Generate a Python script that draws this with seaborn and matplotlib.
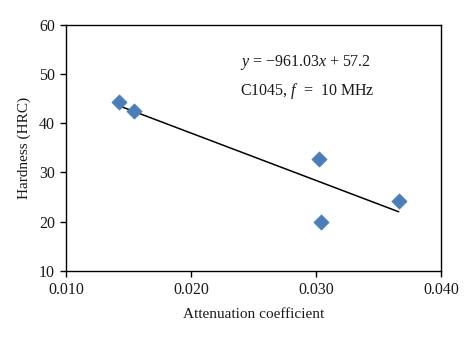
import matplotlib
matplotlib.use("Agg")
import matplotlib.pyplot as plt
import seaborn as sns
import numpy as np
import pandas as pd

# Data
attenuation = [0.01427, 0.01541, 0.03027, 0.03037, 0.03661]
hardness = [44.3, 42.4, 32.7, 20.0, 24.3]
slope = -961.03
intercept = 57.2
xticks = [0.010, 0.020, 0.030, 0.040]
yticks = [10, 20, 30, 40, 50, 60]

sns.set_theme(style="ticks")
plt.rcParams['font.family'] = ['Liberation Serif', 'DejaVu Serif']
plt.rcParams['mathtext.fontset'] = 'custom'
plt.rcParams['mathtext.rm'] = 'Liberation Serif'
plt.rcParams['mathtext.it'] = 'Liberation Serif:italic'

df = pd.DataFrame({"x": attenuation, "y": hardness})

fig = plt.figure(figsize=(4.74, 3.39), dpi=100)
ax = fig.add_axes([66/474, 1-271/339, (441-66)/474, (271-24.5)/339])

xs = np.array([min(attenuation), max(attenuation)])
ax.plot(xs, slope * xs + intercept, color="black", lw=1.1, zorder=2)

sns.scatterplot(data=df, x="x", y="y", marker="D", s=60, color="#4a7ebb",
                edgecolor="#4a7ebb", linewidth=0.5, ax=ax, zorder=3)

ax.set_xlim(0.010, 0.040)
ax.set_ylim(10, 60)
ax.set_xticks(xticks)
ax.set_xticklabels([f"{t:.3f}" for t in xticks])
ax.set_yticks(yticks)
ax.set_yticklabels([str(t) for t in yticks])
for s in ax.spines.values():
    s.set_color("black")
    s.set_linewidth(1.0)
ax.tick_params(axis="both", direction="out", length=4, width=1.0,
               color="black", labelsize=11.5, labelcolor="#1a1a1a", pad=4)

ax.set_xlabel("Attenuation coefficient", fontsize=11, color="#1a1a1a", labelpad=7)
ax.set_ylabel("Hardness (HRC)", fontsize=11, color="#1a1a1a", labelpad=6)

ax.text(0.02392, 52.25, r"$y$ = −961.03$x$ + 57.2", fontsize=11.5,
        ha="left", va="center", color="#1a1a1a")
ax.text(0.02392, 46.57, r"C1045, $f$  =  10 MHz", fontsize=11.5,
        ha="left", va="center", color="#1a1a1a")

fig.savefig("out.png", dpi=100)
